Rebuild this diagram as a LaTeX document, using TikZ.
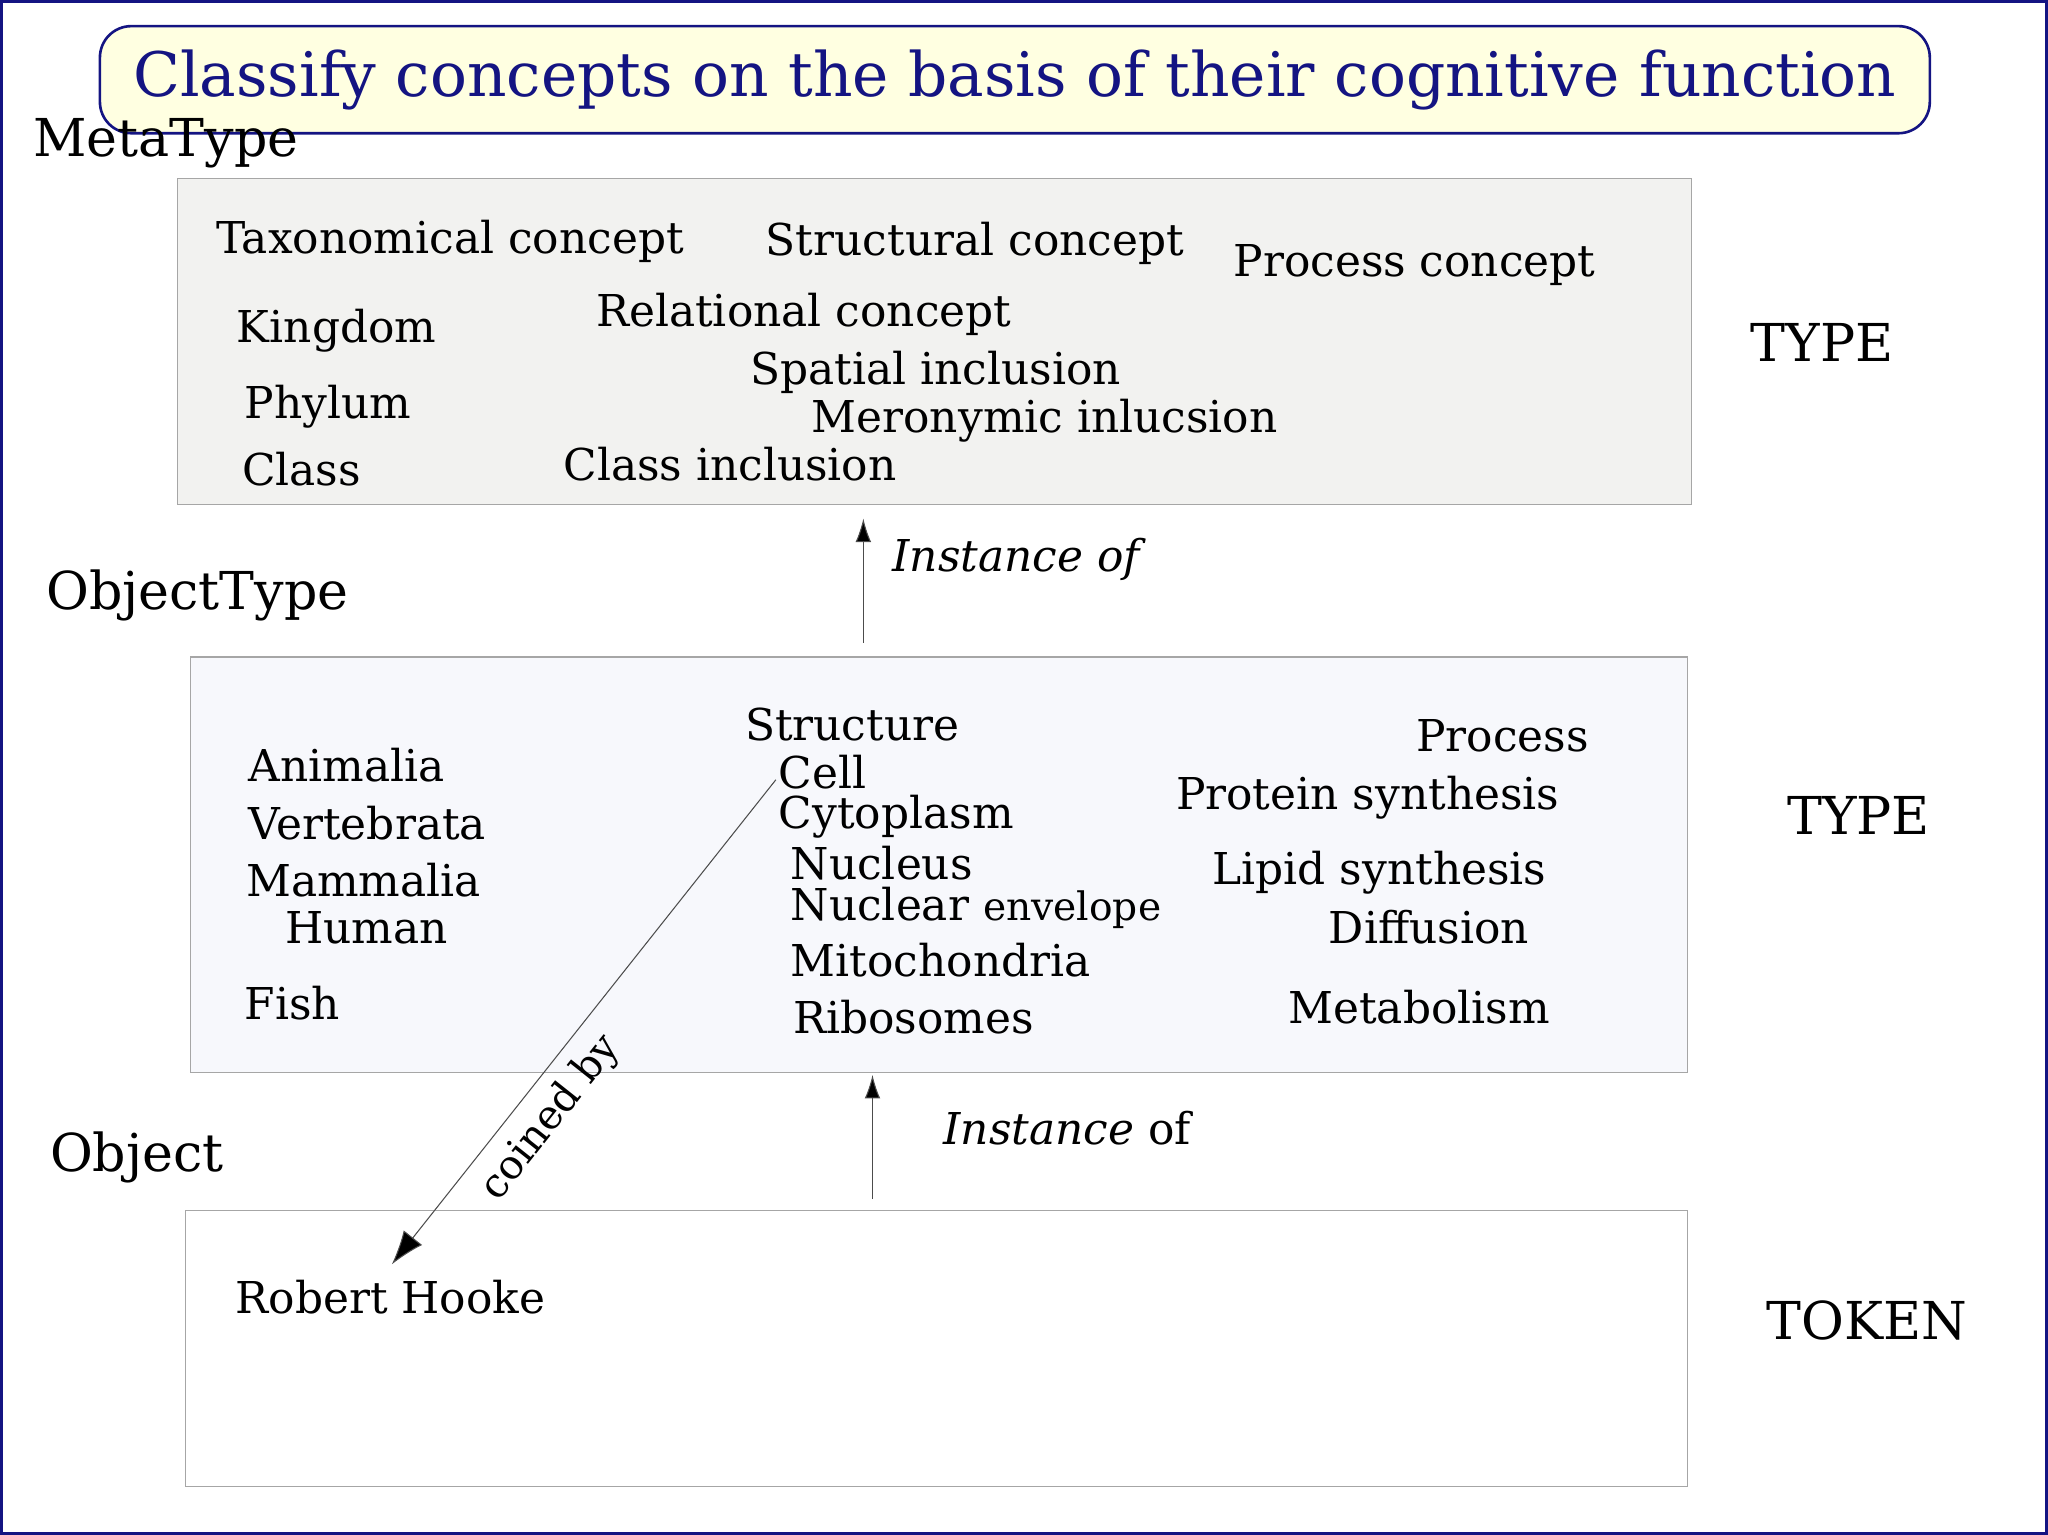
\documentclass[tikz,border=0pt]{standalone}
\usepackage{fontspec}
\setmainfont{DejaVu Serif}
\usetikzlibrary{arrows.meta}
\definecolor{navy}{RGB}{20,20,130}
\definecolor{titlefill}{RGB}{255,255,225}
\definecolor{boxa}{RGB}{242,242,240}
\definecolor{boxb}{RGB}{247,248,252}
\begin{document}
\begin{tikzpicture}[x=0.5pt,y=-0.5pt,
  t/.style={anchor=west,inner sep=0pt,font=\fontsize{16.8}{17}\selectfont},
  big/.style={anchor=west,inner sep=0pt,font=\fontsize{20}{20}\selectfont},
  box/.style={draw=gray!70,line width=0.4pt},
  conn/.style={draw=gray!60!black,line width=0.4pt,-{Latex[length=9pt,width=6pt,fill=black]}}]
\useasboundingbox (0,0) rectangle (1568,1175);
\draw[navy,line width=1pt] (1,1) rectangle (1567,1174);
\node[draw=navy,line width=1pt,fill=titlefill,rounded corners=12pt,minimum width=700.5pt,minimum height=41pt,inner sep=0pt,text=navy,font=\fontsize{23.5}{24}\selectfont] (title) at (777,61) {Classify concepts on the basis of their cognitive function};
\node[big] (mt) at (25,110) {MetaType};
\node[box,fill=boxa,minimum width=579.5pt,minimum height=124.5pt,inner sep=0pt] (b1) at (715.5,261.5) {};
\node[t] (a1) at (165,185) {Taxonomical concept};
\node[t] (a2) at (586,186) {Structural concept};
\node[t] (a3) at (944,203) {Process concept};
\node[t] (a4) at (181,253) {Kingdom};
\node[t] (a5) at (456,241) {Relational concept};
\node[t] (a6) at (574,285) {Spatial inclusion};
\node[t] (a7) at (621,322) {Meronymic inlucsion};
\node[t] (a8) at (187,311) {Phylum};
\node[t] (a9) at (185,359) {Class};
\node[t] (a10) at (431,355) {Class inclusion};
\node[big] (ty1) at (1340,262) {TYPE};
\node[big] (ot) at (35,456) {ObjectType};
\node[box,fill=boxb,minimum width=573pt,minimum height=159pt,inner sep=0pt] (b2) at (719,662) {};
\node[t] (s0) at (570,555) {Structure};
\node[t] (cell) at (596,591) {Cell};
\node[t] (s2) at (596,625) {Cytoplasm};
\node[t] (s3) at (605,661) {Nucleus};
\node[t] (s4) at (605,695) {Nuclear {\fontsize{15}{15}\selectfont envelope}};
\node[t] (s5) at (605,735) {Mitochondria};
\node[t] (s6) at (607,779) {Ribosomes};
\node[t] (o1) at (190,586) {Animalia};
\node[t] (o2) at (190,630) {Vertebrata};
\node[t] (o3) at (188,674) {Mammalia};
\node[t] (o4) at (218,710) {Human};
\node[t] (o5) at (187,768) {Fish};
\node[t] (p1) at (1084,563) {Process};
\node[t] (p2) at (900,611) {Protein synthesis};
\node[t] (p3) at (928,668) {Lipid synthesis};
\node[t] (p4) at (1017,710) {Diffusion};
\node[t] (p5) at (986,771) {Metabolism};
\node[big] (ty2) at (1368,624) {TYPE};
\node[big] (obj) at (38,886) {Object};
\node[box,fill=white,minimum width=575pt,minimum height=105.5pt,inner sep=0pt] (b3) at (717,1032.5) {};
\node[t] (rh) at (180,993) {Robert Hooke};
\node[big] (tok) at (1352,1011) {TOKEN};
\coordinate (c1) at (661,492);
\coordinate (c1e) at (661,397);
\coordinate (c2) at (668,918);
\coordinate (c2e) at (668,823);
\coordinate (cs) at (594,597);
\coordinate (ce) at (300,968);
\draw[conn] (c1) -- (c1e);
\node[t,font=\fontsize{16.8}{17}\selectfont\itshape] (i1) at (683,428) {Instance of};
\draw[conn] (c2) -- (c2e);
\node[t] (i2) at (722,864) {\textit{Instance} of};
\draw[conn,-{Latex[length=13pt,width=9pt,fill=black]}] (cs) -- (ce);
\node[inner sep=0pt,rotate=51.6,font=\fontsize{15.5}{16}\selectfont] (cb) at (422,856) {coined by};
\end{tikzpicture}
\end{document}
